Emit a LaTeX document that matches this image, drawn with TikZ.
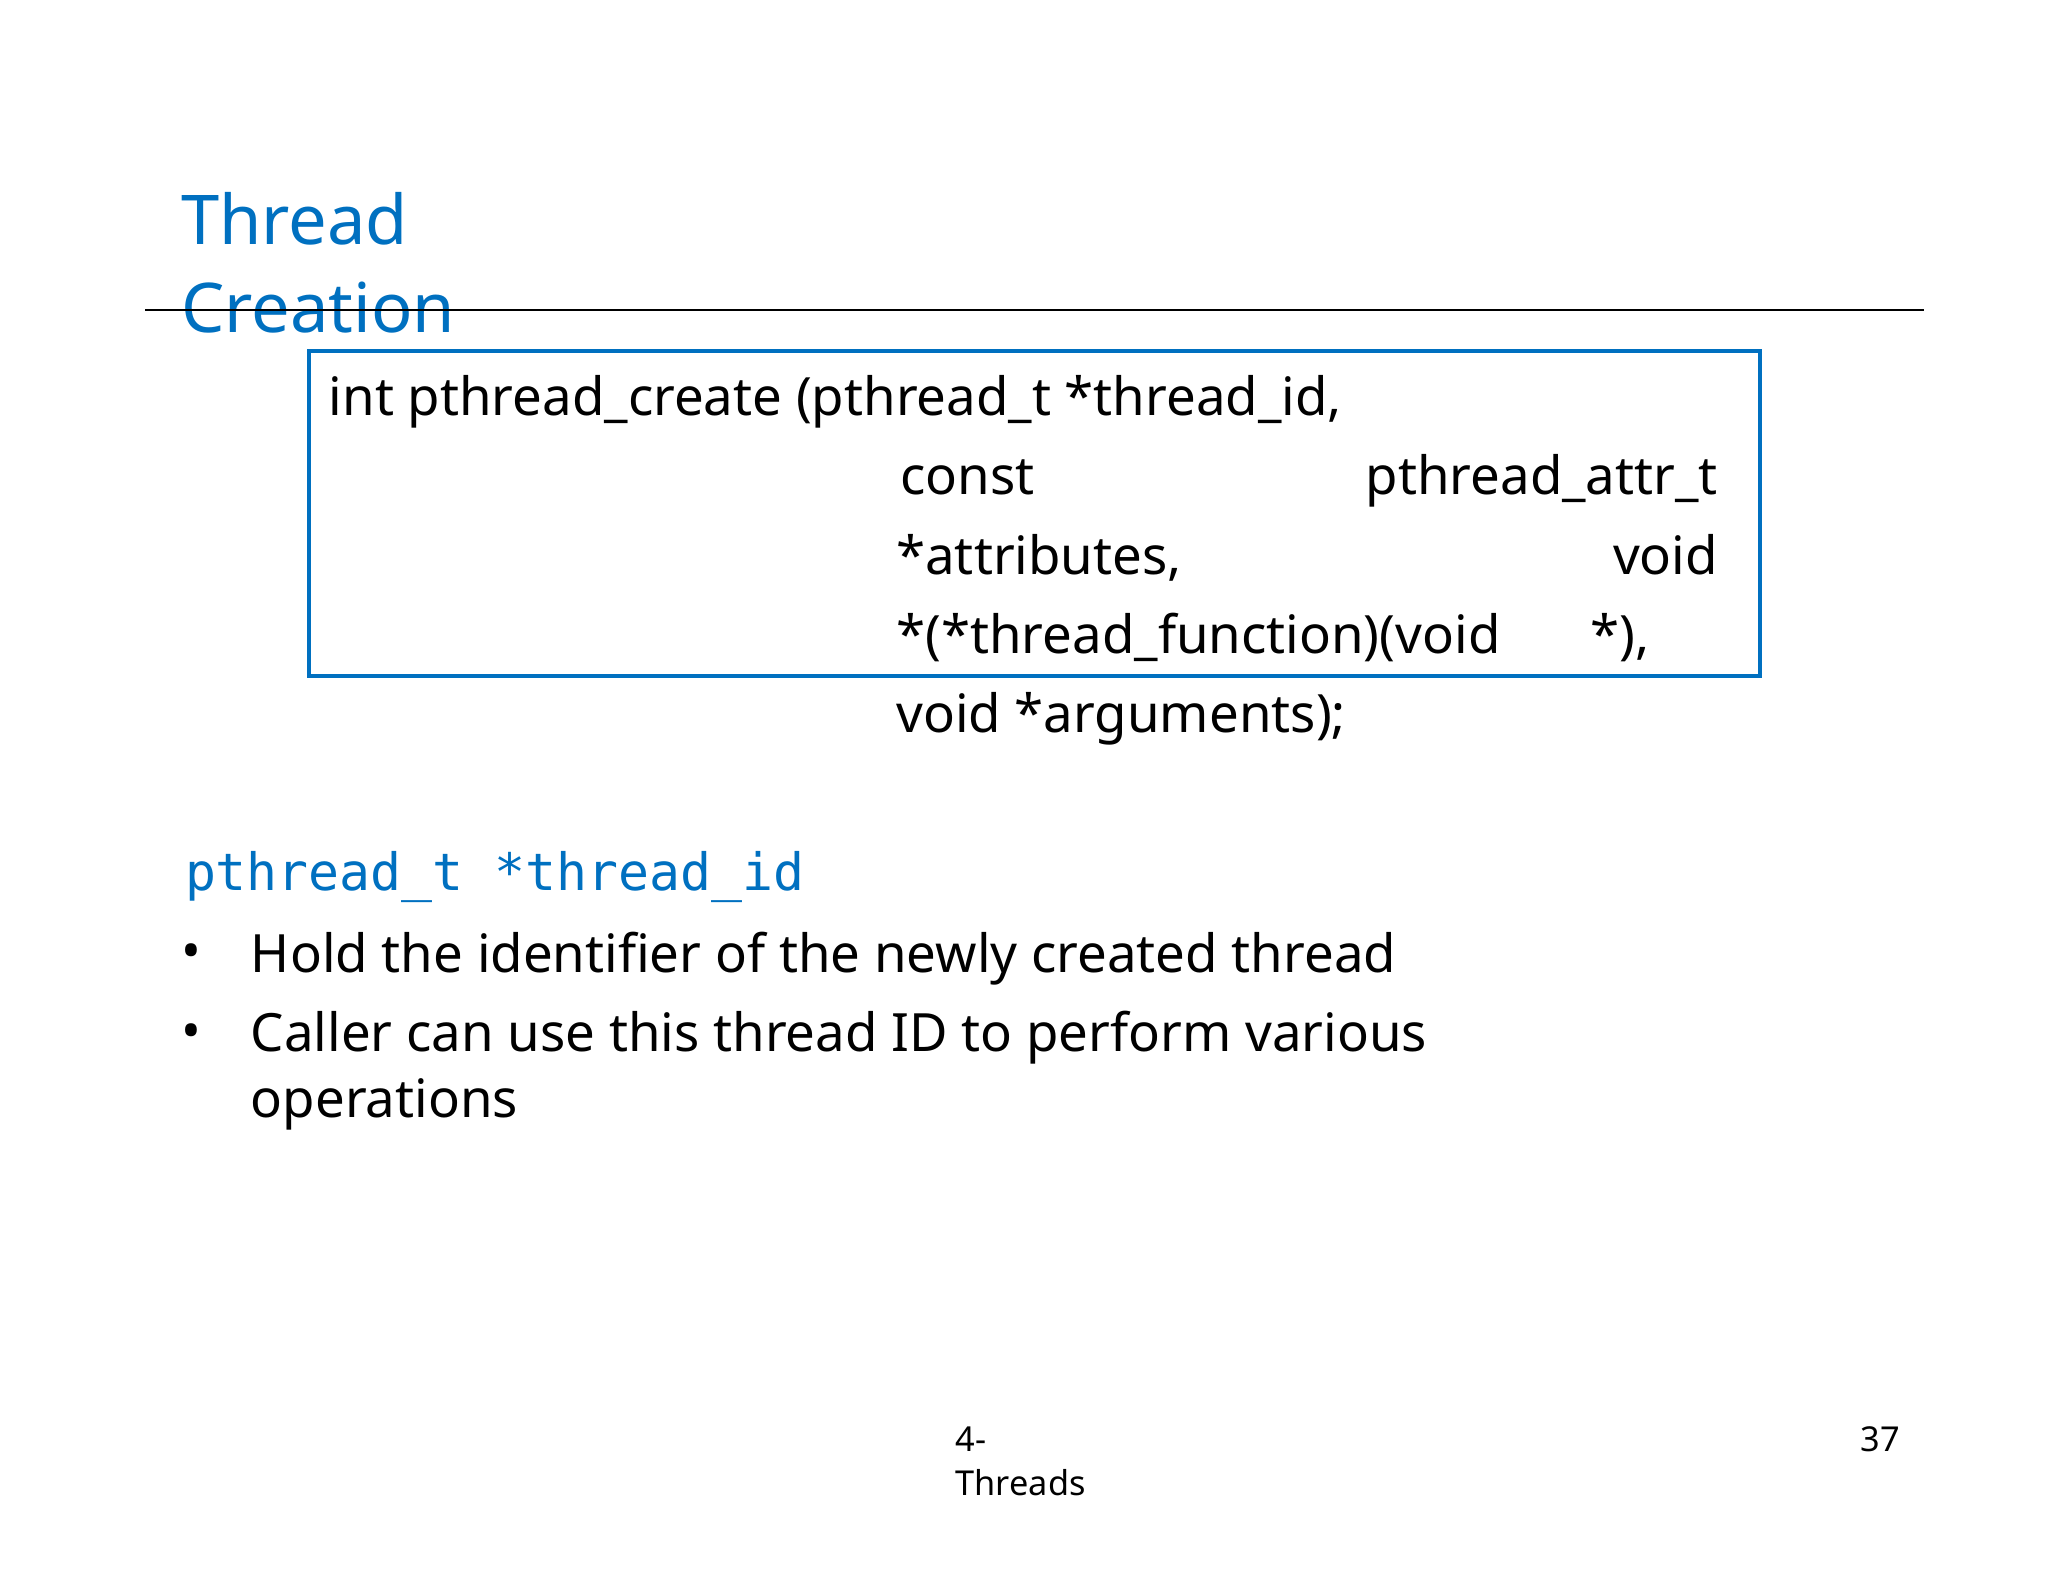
\documentclass[tikz,border=0pt]{standalone}
\usepackage{fontspec}
\setmainfont{Noto Sans}
\setmonofont{DejaVu Sans Mono}
\definecolor{tblue}{HTML}{0070C0}
\begin{document}
\begin{tikzpicture}[x=1pt,y=-1pt,
  txt/.style={inner sep=0pt,anchor=base west,font=\fontsize{40}{48}\selectfont},
  txr/.style={txt,anchor=base east}]
\useasboundingbox (0,0) rectangle (1552,1199);
\node[txt,text=tblue,font=\fontsize{52}{60}\selectfont] (t1) at (137,185) {Thread};
\node[txt,text=tblue,font=\fontsize{52}{60}\selectfont] (t2) at (137,252) {Creation};
\draw[line width=1.5] (110,235) -- (1458,235);
\draw[tblue,line width=3] (234,266) rectangle (1334,512);
\node[txt] (c1) at (249,315) {\textbf{int} pthread\_create (pthread\_t *thread\_id,};
\node[txt] (c2a) at (682,375) {\textbf{const}};
\node[txr] (c2b) at (1302,375) {pthread\_attr\_t};
\node[txt] (c3a) at (679,435) {*attributes,};
\node[txr] (c3b) at (1302,435) {\textbf{void}};
\node[txt] (c4a) at (679,495) {*(*thread\_function)(void};
\node[txr] (c4b) at (1250,495) {*),};
\node[txt] (c5) at (679,555) {\textbf{void} *arguments);};
\node[txt,text=tblue,font=\fontsize{39}{46}\ttfamily] (h) at (140,675) {pthread\_t *thread\_id};
\node[txt] (b1d) at (137,735) {•};
\node[txt] (b1) at (190,737) {Hold the identifier of the newly created thread};
\node[txt] (b2d) at (137,795) {•};
\node[txt] (b2) at (190,797) {Caller can use this thread ID to perform various};
\node[txt] (b3) at (190,847) {operations};
\node[txt,font=\fontsize{26}{30}\selectfont] (f1) at (724,1100) {4-};
\node[txt,font=\fontsize{26}{30}\selectfont] (f2) at (724,1133) {Threads};
\node[txr,font=\fontsize{26}{30}\selectfont] (pg) at (1440,1100) {37};
\end{tikzpicture}
\end{document}
